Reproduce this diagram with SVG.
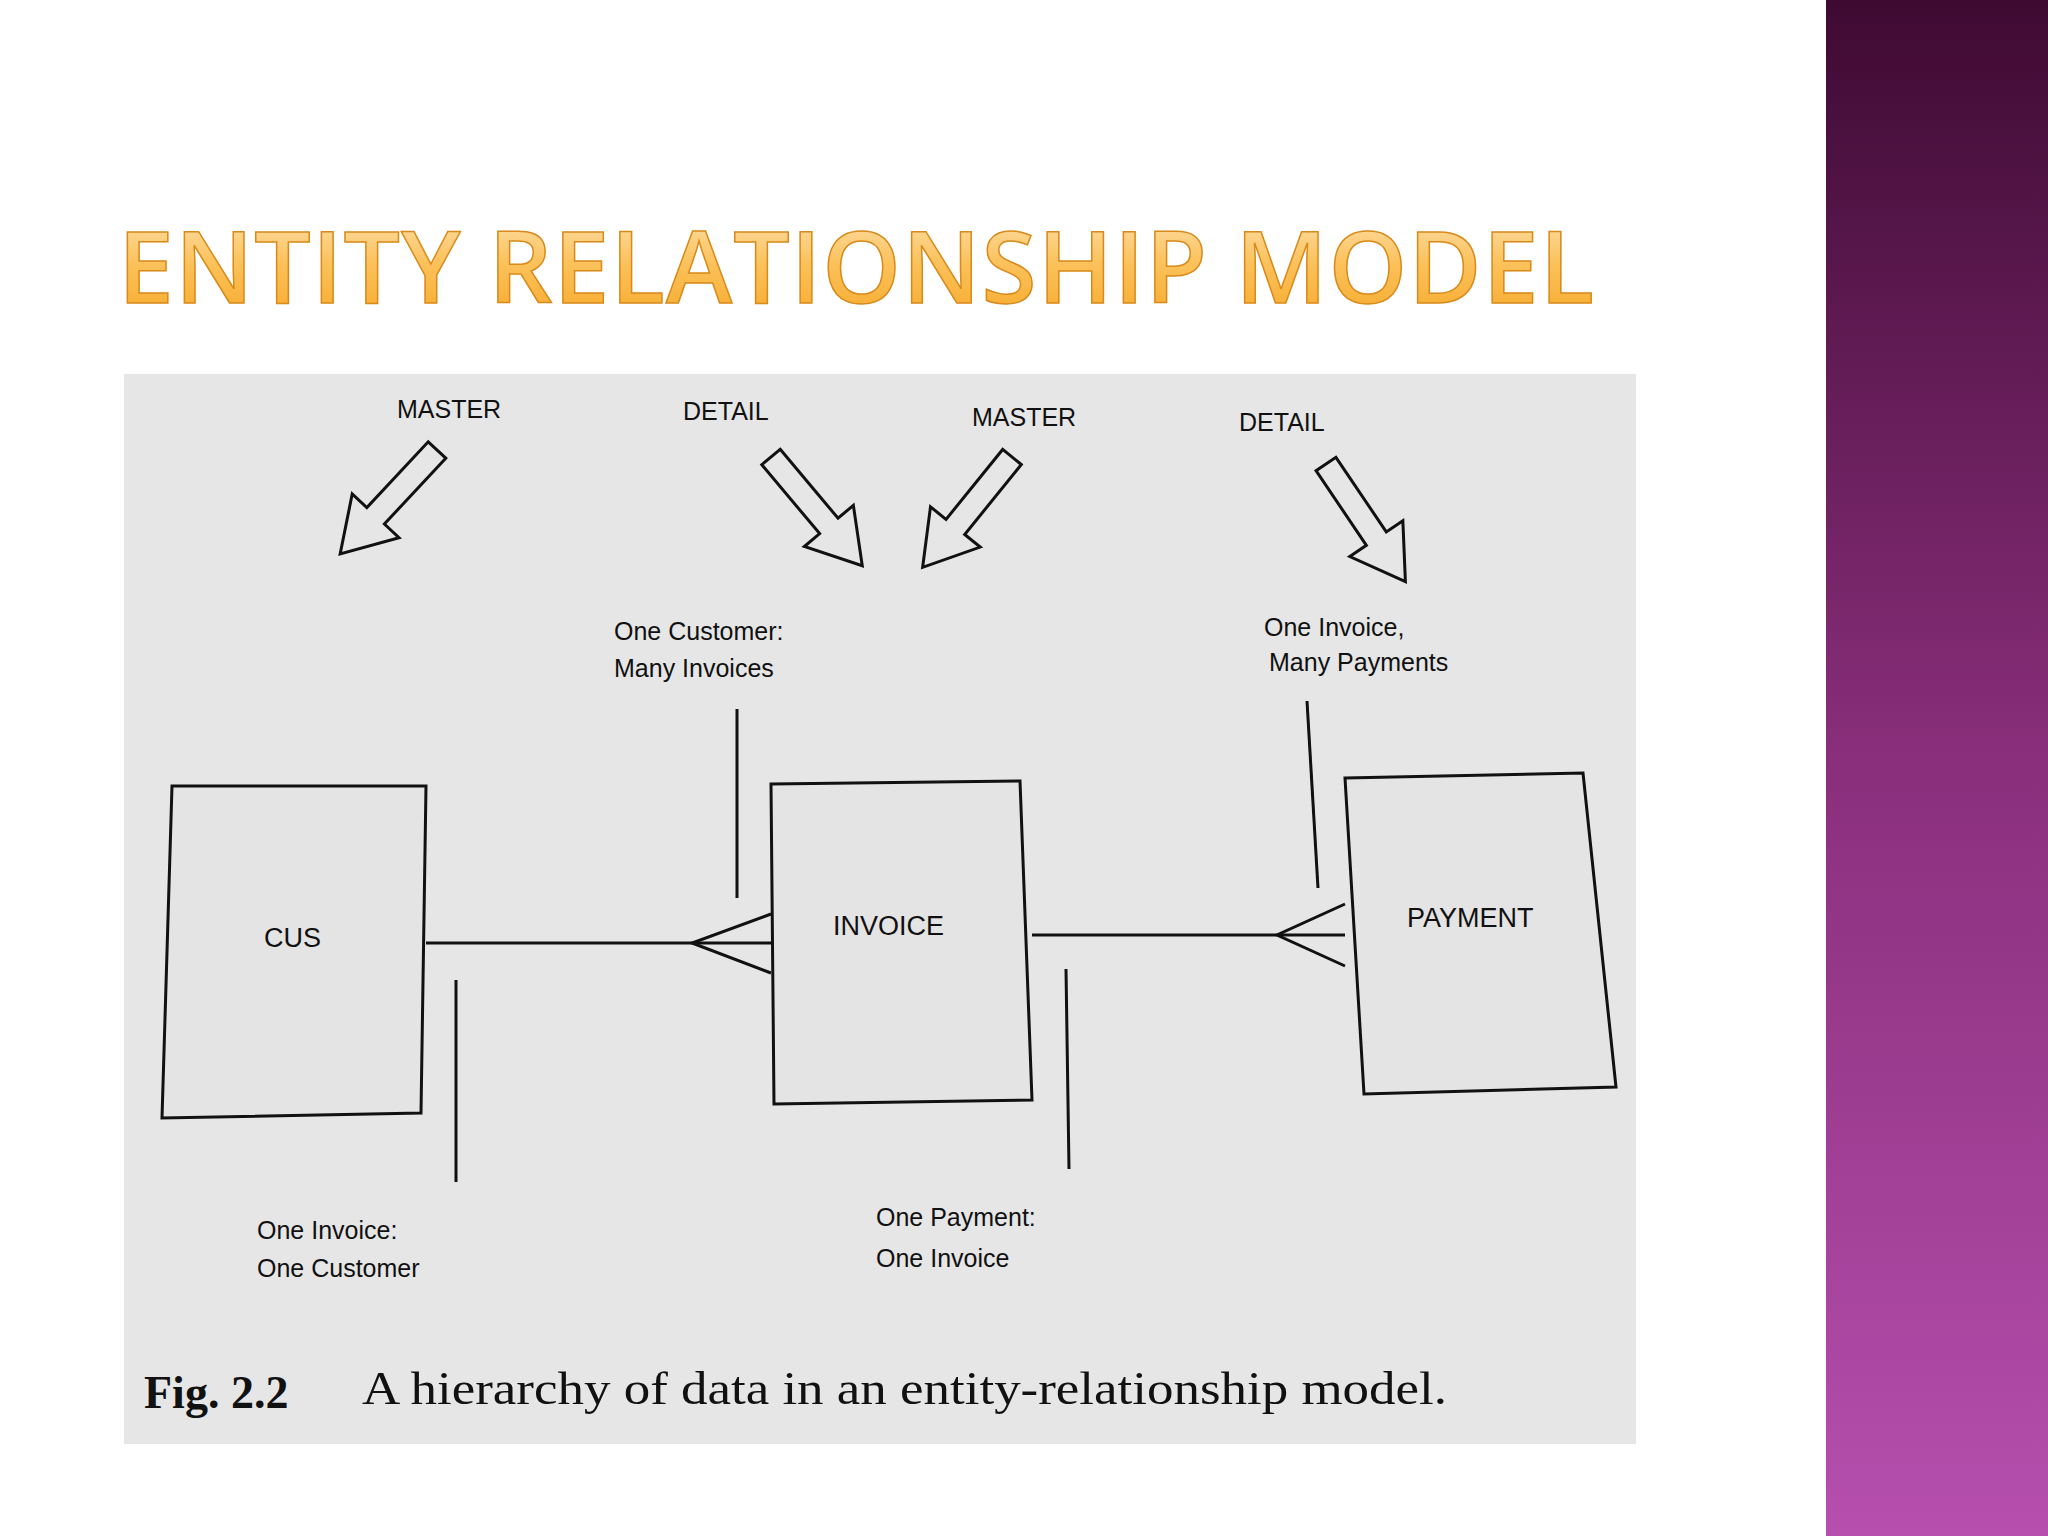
<svg xmlns="http://www.w3.org/2000/svg" width="2048" height="1536" viewBox="0 0 2048 1536">
<defs>
<linearGradient id="side" x1="0" y1="0" x2="0" y2="1"><stop offset="0" stop-color="#3e0a32"/><stop offset="0.5" stop-color="#8a2f7c"/><stop offset="1" stop-color="#b64fae"/></linearGradient>
<linearGradient id="ttl" x1="0" y1="0" x2="0" y2="1"><stop offset="0" stop-color="#fde9c4"/><stop offset="0.5" stop-color="#fbc15a"/><stop offset="1" stop-color="#f6a623"/></linearGradient>
<polygon id="arr" points="0,-12 90,-12 90,-32 142,0 90,32 90,12 0,12"/>
</defs>
<style>
.box{fill:#e4e4e4;stroke:#111;stroke-width:3}
.ln{stroke:#111;stroke-width:3;fill:none}
.t{font-family:"Liberation Sans",Arial,sans-serif;font-size:25px;fill:#111}
.h{font-family:"Liberation Sans",Arial,sans-serif;font-size:27px;fill:#111}
.ar{fill:none;stroke:#111;stroke-width:3}
</style>
<rect width="2048" height="1536" fill="#fff"/>
<rect x="1826" y="0" width="222" height="1536" fill="url(#side)"/>
<text x="118" y="303" font-family="'Open Sans','Liberation Sans',sans-serif" font-weight="600" font-size="100" textLength="1476" lengthAdjust="spacing" fill="url(#ttl)" stroke="#d88a1a" stroke-width="1.5">ENTITY RELATIONSHIP MODEL</text>
<rect x="124" y="374" width="1512" height="1070" fill="#e6e6e6"/>
<g id="arrows">
<use href="#arr" class="ar" transform="translate(437,450) rotate(133)"/>
<use href="#arr" class="ar" transform="translate(771,457) rotate(50)"/>
<use href="#arr" class="ar" transform="translate(1012,457) rotate(129)"/>
<use href="#arr" class="ar" transform="translate(1326,464) rotate(56)"/>
</g>
<g id="labels">
<text class="t" x="397" y="418">MASTER</text>
<text class="t" x="683" y="420">DETAIL</text>
<text class="t" x="972" y="426">MASTER</text>
<text class="t" x="1239" y="431">DETAIL</text>
<text class="t" x="614" y="640">One Customer:</text>
<text class="t" x="614" y="677">Many Invoices</text>
<text class="t" x="1264" y="636">One Invoice,</text>
<text class="t" x="1269" y="671">Many Payments</text>
<text class="t" x="257" y="1239">One Invoice:</text>
<text class="t" x="257" y="1277">One Customer</text>
<text class="t" x="876" y="1226">One Payment:</text>
<text class="t" x="876" y="1267">One Invoice</text>
</g>
<g id="connectors">
<line class="ln" x1="426" y1="943" x2="771" y2="943"/>
<polyline class="ln" points="771,914 692,943 771,973"/>
<line class="ln" x1="1032" y1="935" x2="1345" y2="935"/>
<polyline class="ln" points="1345,904 1277,935 1345,966"/>
<line class="ln" x1="737" y1="709" x2="737" y2="898"/>
<line class="ln" x1="1307" y1="701" x2="1318" y2="888"/>
<line class="ln" x1="456" y1="980" x2="456" y2="1182"/>
<line class="ln" x1="1066" y1="969" x2="1069" y2="1169"/>
</g>
<g id="cus"><polygon class="box" points="172,786 426,786 421,1113 162,1118"/><text class="h" x="264" y="947">CUS</text></g>
<g id="invoice"><polygon class="box" points="771,784 1020,781 1032,1100 774,1104"/><text class="h" x="833" y="935">INVOICE</text></g>
<g id="payment"><polygon class="box" points="1345,778 1583,773 1616,1087 1364,1094"/><text class="h" x="1407" y="927">PAYMENT</text></g>
<text font-family="'Liberation Serif','Times New Roman',serif" font-size="46" font-weight="bold" fill="#111"><tspan x="144" y="1408">Fig. 2.2</tspan><tspan x="362" y="1404" font-weight="normal" textLength="1085" lengthAdjust="spacingAndGlyphs">A hierarchy of data in an entity-relationship model.</tspan></text>
</svg>
